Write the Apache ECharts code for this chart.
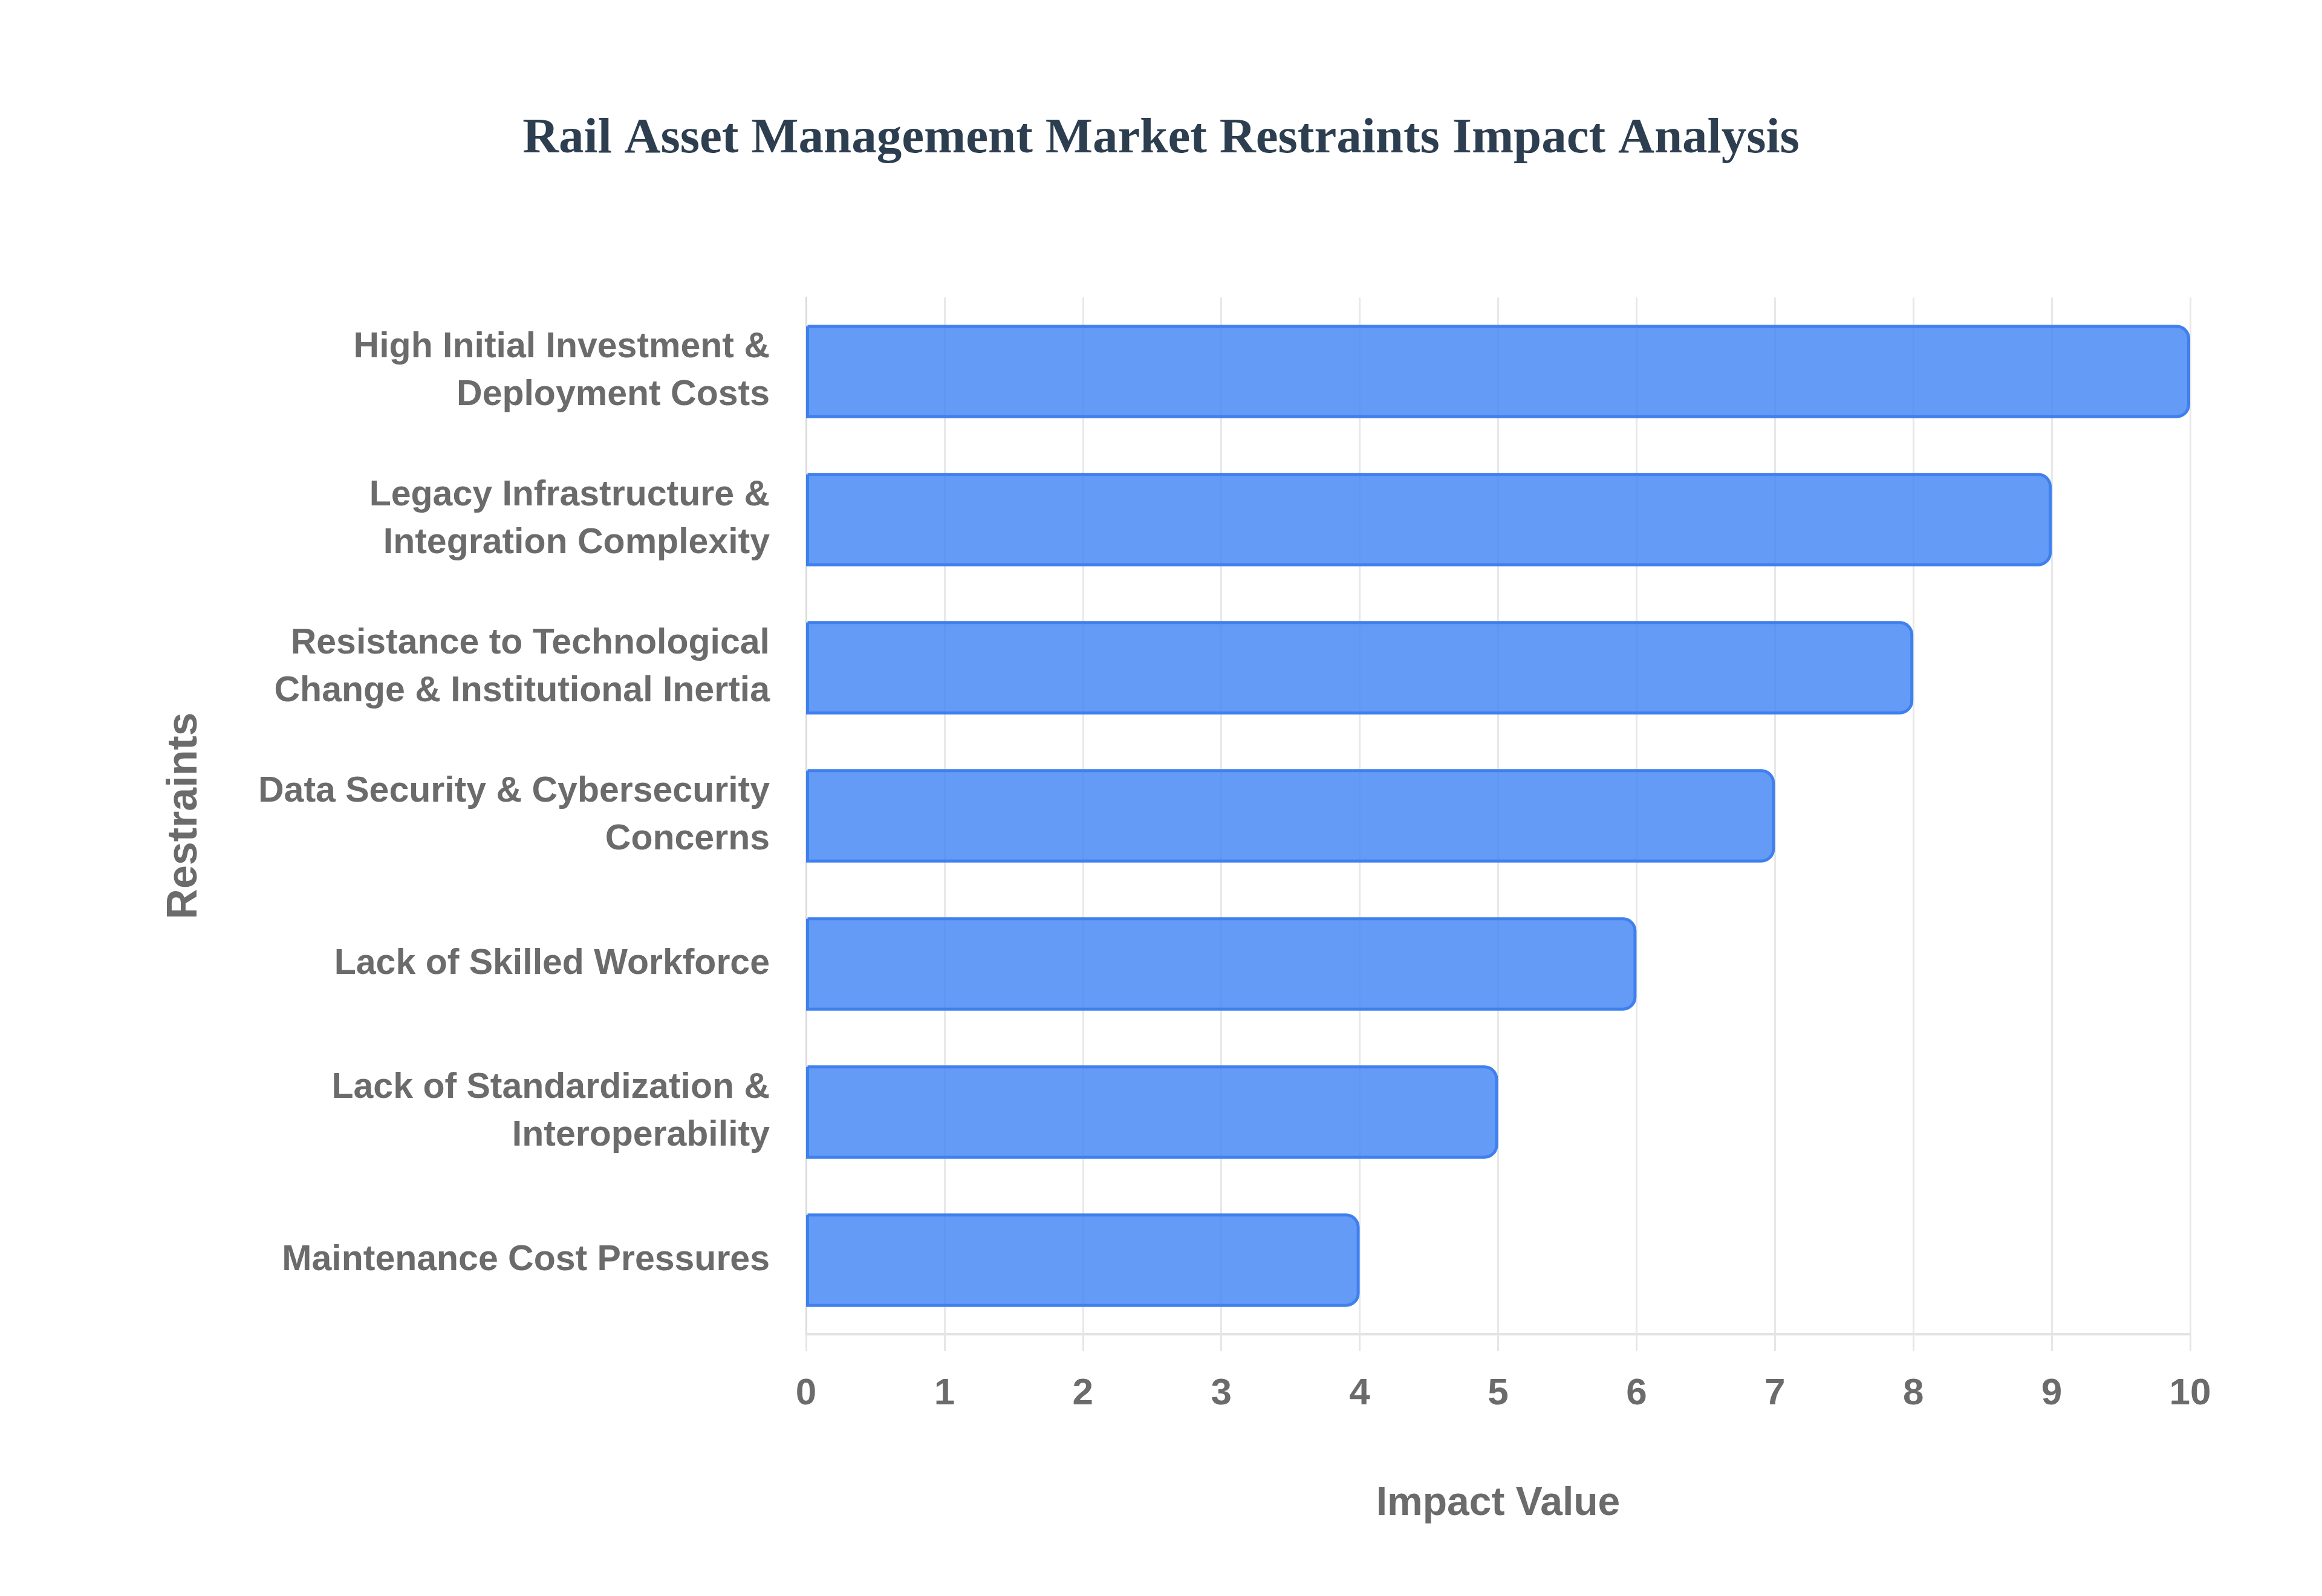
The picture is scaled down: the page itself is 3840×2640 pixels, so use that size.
<!DOCTYPE html>
<html>
<head>
<meta charset="utf-8">
<title>Rail Asset Management Market Restraints Impact Analysis</title>
<script src="https://cdn.jsdelivr.net/npm/echarts@6/dist/echarts.min.js"></script>
<style>
  html, body { margin: 0; padding: 0; background: #ffffff; }
  #chart { width: 3840px; height: 2640px; }
</style>
</head>
<body>
<div id="chart"></div>
<script>
// restraint names, top to bottom as drawn
var restraints = [
  'High Initial Investment &\nDeployment Costs',
  'Legacy Infrastructure &\nIntegration Complexity',
  'Resistance to Technological\nChange & Institutional Inertia',
  'Data Security & Cybersecurity\nConcerns',
  'Lack of Skilled Workforce',
  'Lack of Standardization &\nInteroperability',
  'Maintenance Cost Pressures'
];
var impactValues = [10, 9, 8, 7, 6, 5, 4];
var xTicks = [0, 10, 1]; // min, max, interval

var labelFont = 'Liberation Sans, Arial, Helvetica, sans-serif';
var grey = '#6b6b6b';

var chart = echarts.init(document.getElementById('chart'));

var option = {
  backgroundColor: '#ffffff',
  animation: false,
  title: {
    text: 'Rail Asset Management Market Restraints Impact Analysis',
    left: 'center',
    top: 184,
    textStyle: {
      fontFamily: 'Liberation Serif, Times New Roman, serif',
      fontWeight: 'bold',
      fontSize: 83,
      color: '#2c3e50'
    }
  },
  grid: {
    left: 1333,
    right: 218,
    top: 492,
    bottom: 433,
    containLabel: false
  },
  xAxis: {
    type: 'value',
    min: xTicks[0],
    max: xTicks[1],
    interval: xTicks[2],
    name: 'Impact Value',
    nameLocation: 'middle',
    nameGap: 248,
    nameTextStyle: {
      fontFamily: labelFont,
      fontWeight: 'bold',
      fontSize: 66,
      color: grey
    },
    axisLine: { show: true, lineStyle: { color: '#e3e3e3', width: 4 } },
    axisTick: { show: true, length: 28, lineStyle: { color: '#e6e6e6', width: 3 } },
    axisLabel: {
      margin: 68,
      fontFamily: labelFont,
      fontWeight: 'bold',
      fontSize: 62,
      color: grey
    },
    splitLine: { show: true, lineStyle: { color: '#e8e8e8', width: 3 } }
  },
  yAxis: {
    type: 'category',
    data: restraints,
    inverse: true,
    name: 'Restraints',
    nameLocation: 'middle',
    nameGap: 992,
    nameTextStyle: {
      fontFamily: labelFont,
      fontWeight: 'bold',
      fontSize: 70,
      color: grey
    },
    axisLine: { show: true, lineStyle: { color: '#dcdcdc', width: 3 } },
    axisTick: { show: false },
    axisLabel: {
      margin: 60,
      fontFamily: labelFont,
      fontWeight: 'bold',
      fontSize: 59,
      lineHeight: 79,
      color: grey,
      align: 'right'
    },
    splitLine: { show: false }
  },
  series: [{
    type: 'bar',
    data: impactValues,
    barWidth: '63%',
    itemStyle: {
      color: 'rgba(66, 133, 244, 0.82)',
      borderColor: '#3f80ee',
      borderWidth: 5,
      borderRadius: [0, 20, 20, 0]
    }
  }]
};

chart.setOption(option);
</script>
</body>
</html>
